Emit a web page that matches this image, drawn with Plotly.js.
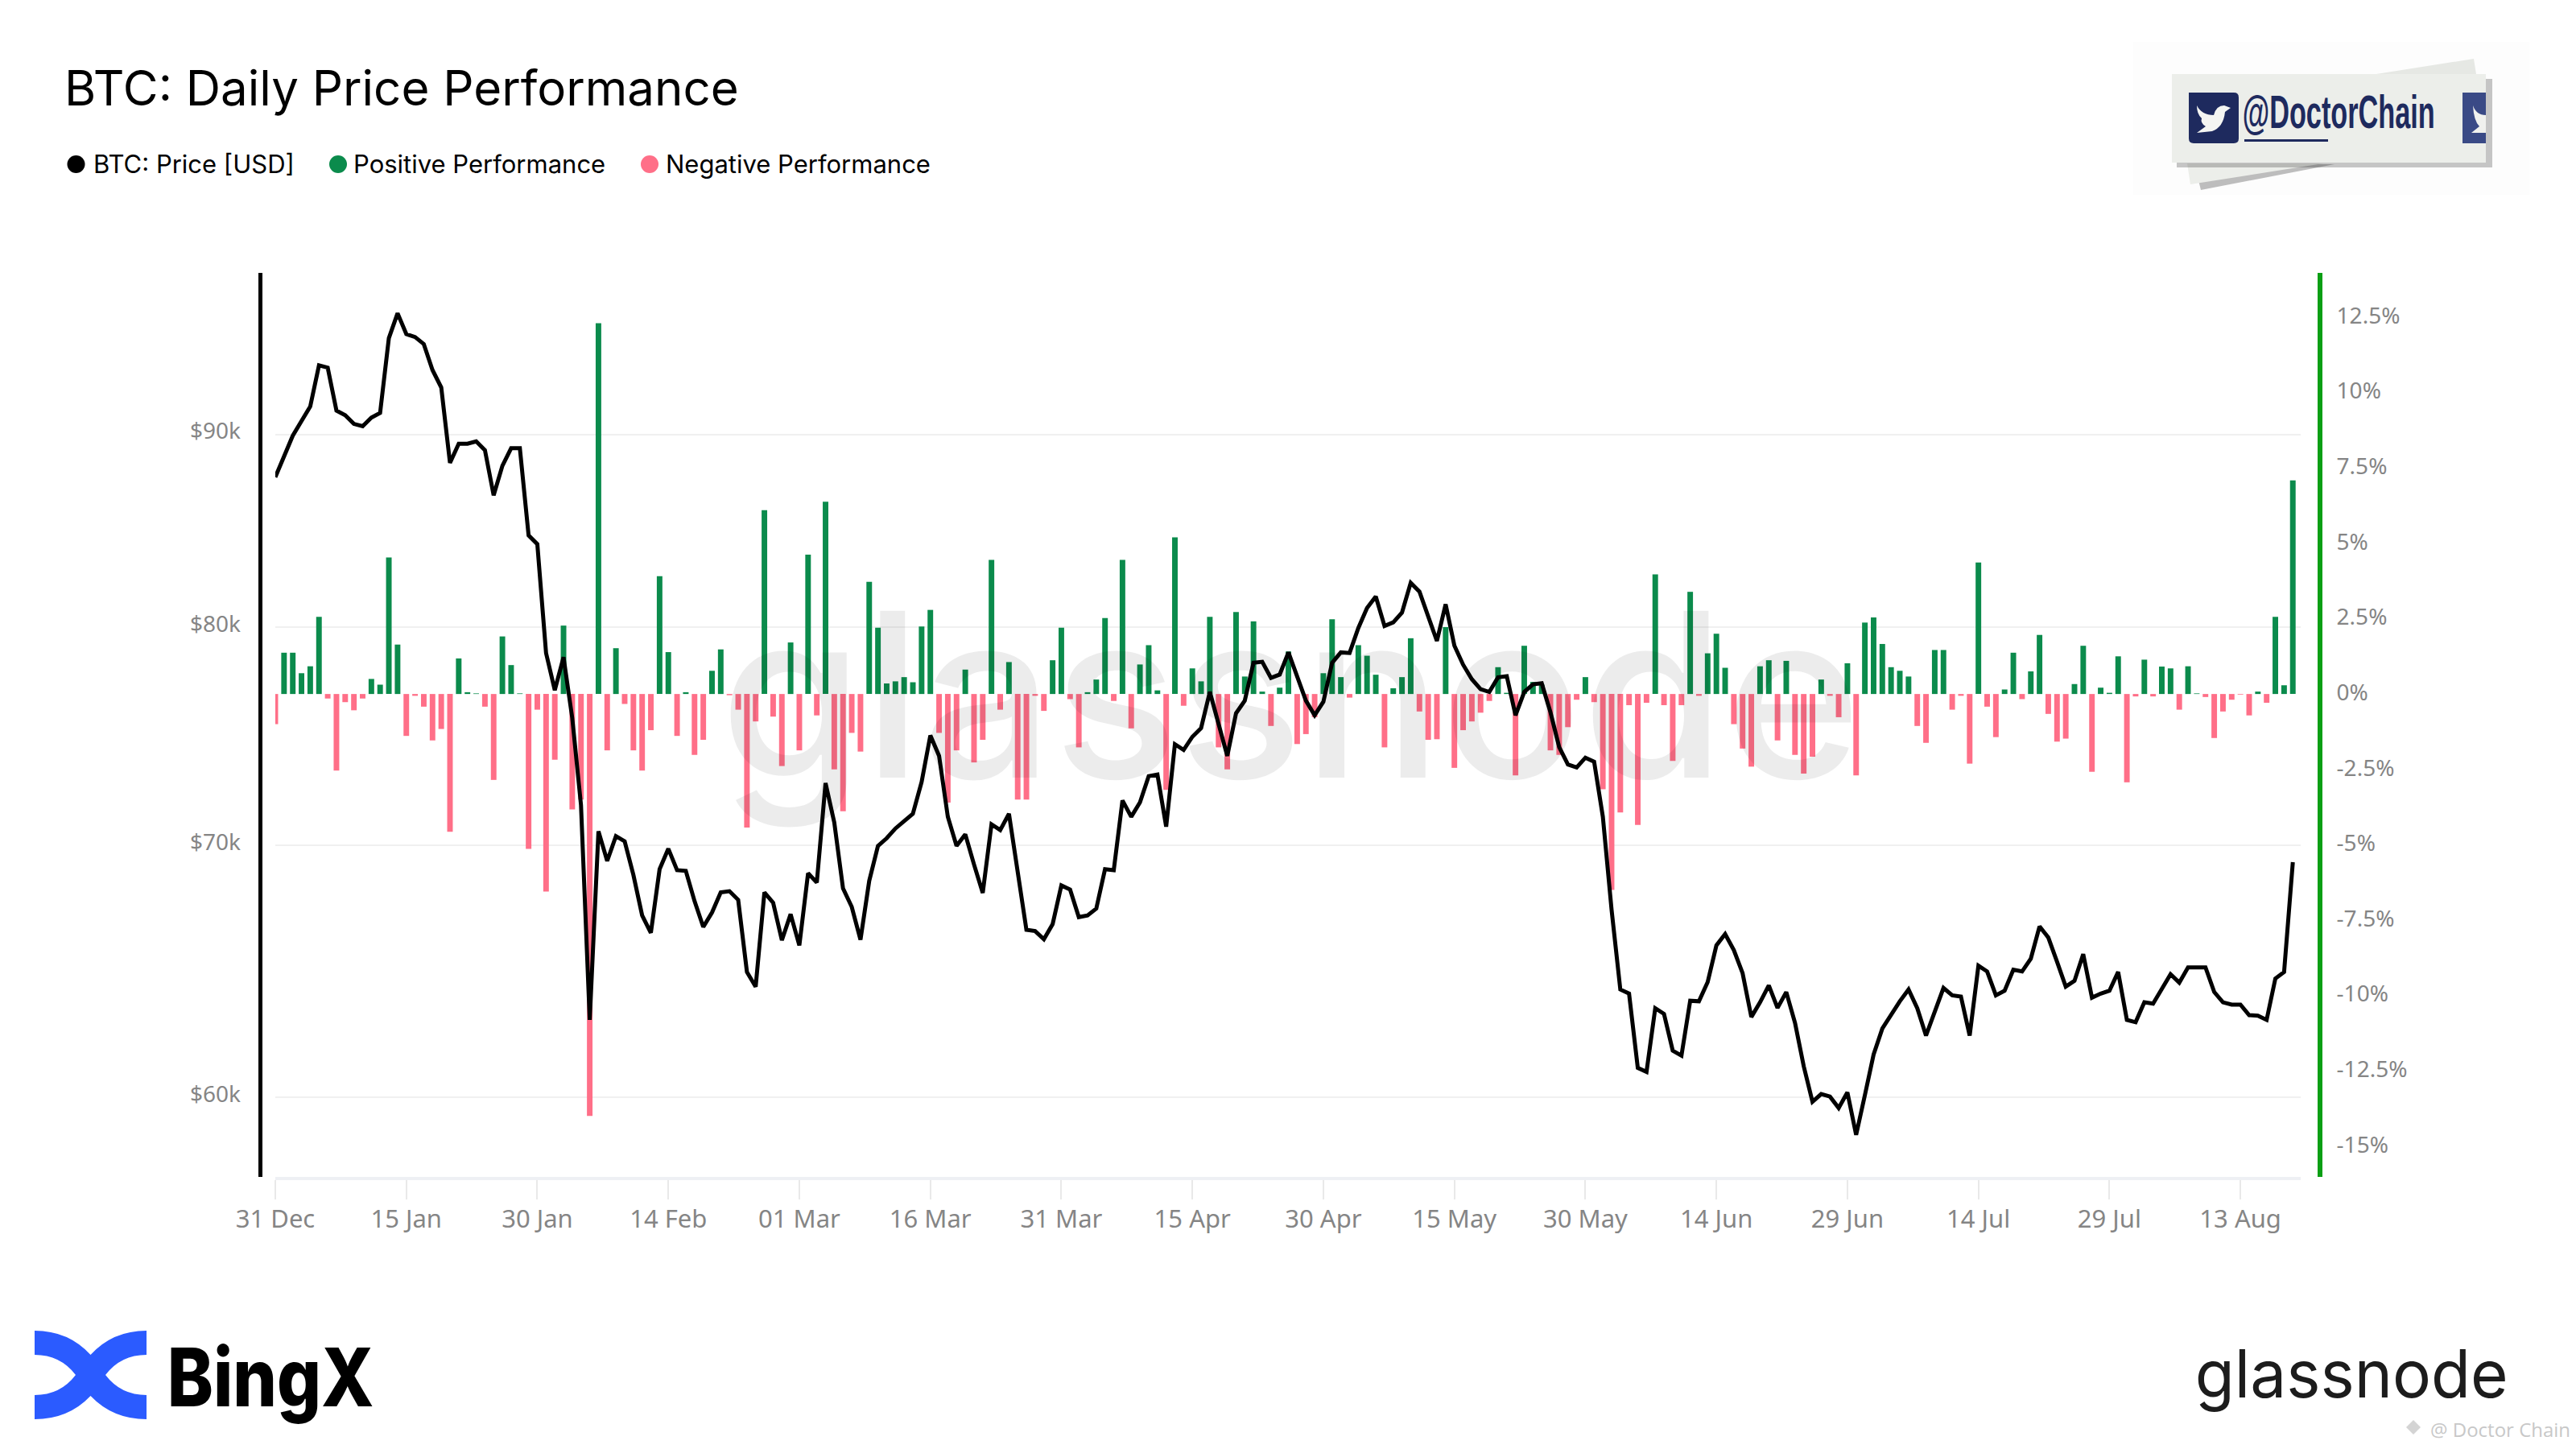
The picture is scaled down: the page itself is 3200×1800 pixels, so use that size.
<!DOCTYPE html>
<html><head><meta charset="utf-8">
<script src="https://cdn.plot.ly/plotly-3.0.1.min.js"></script>
<style>html,body{margin:0;padding:0;background:#fff}</style></head>
<body><div id="chart" style="width:3200px;height:1800px"></div>
<script>
const price = [87680,88770,89930,90740,91550,93880,93750,91320,91060,90580,90450,90930,91190,95450,96920,95690,95520,95110,93610,92620,
88450,89490,89490,89620,89140,86710,88290,89240,89240,84610,84160,78740,76970,78540,75670,71750,62920,70610,69340,70400,
70180,68750,67070,66360,68990,69860,68950,68920,67660,66600,67190,68020,68070,67710,64790,64210,68020,67590,66060,67120,
65850,68820,68430,72720,70990,68190,67420,66080,68500,69980,70310,70730,71060,71370,72770,74870,73940,71240,69980,70480,
69190,68000,70910,70660,71370,68870,66480,66430,66100,66710,68310,68140,67000,67070,67350,68990,68950,71950,71240,71870,
73030,73100,70810,74470,74210,74810,75210,76890,75400,73940,75890,76480,78270,78320,77550,77710,78770,77580,76480,75800,
76430,78270,78770,78740,79950,80940,81510,80050,80230,80710,82190,81750,80510,79320,81120,79100,78180,77490,77020,76890,
77580,77630,75800,76890,77250,77300,75940,74340,73550,73420,73860,73680,71240,67300,64100,63940,61100,60950,63370,63150,
61750,61560,63660,63640,64390,65850,66310,65660,64740,63030,63600,64260,63380,64000,62810,61160,59850,60130,60040,59620,
60190,58650,60090,61600,62590,63150,63640,64100,63370,62320,63260,64160,63870,63820,62320,65040,64810,63870,64050,64880,
64810,65320,66620,66170,65200,64210,64440,65500,63780,63940,64050,64790,62920,62830,63600,63550,64120,64700,64370,64970,
64970,64970,64000,63600,63510,63510,63100,63080,62920,64530,64790,69290];
const performance = [-1.0,1.37,1.37,0.69,0.92,2.56,-0.15,-2.54,-0.27,-0.54,-0.15,0.5,0.31,4.53,1.64,-1.39,-0.06,-0.42,-1.54,-1.16,
-4.57,1.18,0.06,0.02,-0.42,-2.85,1.91,0.96,0.02,-5.14,-0.52,-6.55,-2.18,2.27,-3.83,-3.5,-14.0,12.3,-1.87,1.52,
-0.33,-1.87,-2.54,-1.2,3.91,1.39,-1.39,0.06,-2.02,-1.52,0.77,1.48,-0.04,-0.52,-4.43,-0.91,6.1,-0.75,-2.39,1.71,
-1.87,4.62,-0.71,6.38,-2.5,-3.89,-1.29,-1.91,3.72,2.2,0.35,0.42,0.56,0.39,2.24,2.79,-1.29,-3.6,-1.87,0.81,
-2.27,-1.52,4.45,-0.52,1.06,-3.5,-3.5,-0.06,-0.56,1.12,2.2,-0.17,-1.77,0.06,0.48,2.52,-0.23,4.45,-1.14,0.98,
1.62,0.12,-3.18,5.2,-0.39,0.85,0.42,2.56,-1.77,-2.5,2.72,0.58,2.41,0.08,-1.06,0.21,1.41,-1.66,-1.33,-0.77,
0.69,2.48,0.56,-0.12,1.62,1.27,0.64,-1.77,0.19,0.56,1.85,-0.58,-1.52,-1.5,2.22,-2.45,-1.2,-0.91,-0.62,-0.23,
0.89,0.04,-2.7,1.6,0.4,0.31,-1.87,-2.02,-1.1,-0.19,0.56,-0.27,-3.16,-6.5,-3.93,-0.37,-4.34,-0.29,3.97,-0.37,
-2.22,-0.37,3.39,-0.06,1.35,2.0,0.87,-1.0,-1.81,-2.41,0.92,1.12,-1.54,1.1,-2.02,-2.64,-2.08,0.48,-0.06,-0.77,
1.02,-2.7,2.37,2.54,1.66,0.89,0.77,0.58,-1.06,-1.62,1.46,1.46,-0.52,-0.06,-2.31,4.36,-0.42,-1.43,0.15,1.37,
-0.17,0.75,1.96,-0.66,-1.58,-1.48,0.33,1.6,-2.58,0.21,0.04,1.25,-2.93,-0.08,1.14,-0.08,0.91,0.85,-0.52,0.92,
0.02,-0.1,-1.46,-0.58,-0.19,-0.02,-0.71,0.08,-0.29,2.56,0.29,7.09];
const dayTicks = [0,15,30,45,60,75,90,105,120,135,150,165,180,195,210,225];
const dayLabels = ['31 Dec','15 Jan','30 Jan','14 Feb','01 Mar','16 Mar','31 Mar','15 Apr','30 Apr','15 May','30 May','14 Jun','29 Jun','14 Jul','29 Jul','13 Aug'];
const priceTicks = [60000,70000,80000,90000];
const priceLabels = ['$60k','$70k','$80k','$90k'];
const perfTicks = [-15,-12.5,-10,-7.5,-5,-2.5,0,2.5,5,7.5,10,12.5];
const perfLabels = ['-15%','-12.5%','-10%','-7.5%','-5%','-2.5%','0%','2.5%','5%','7.5%','10%','12.5%'];
const legendNames = ['BTC: Price [USD]','Positive Performance','Negative Performance'];
const colPrice='#000000', colPos='#0B8B4C', colNeg='#FF6F88', colAxisR='#0A9F14';

const days = price.map((_,i)=>i);
const W=3200,H=1800;
const X=p=>p/W, Y=p=>1-p/H;
const path=s=>s.replace(/(-?[\d.]+),(-?[\d.]+)/g,(m,a,b)=>X(+a).toFixed(5)+','+Y(+b).toFixed(5));
const rect=(x0,y0,x1,y1,fill)=>({type:'rect',xref:'paper',yref:'paper',x0:X(x0),x1:X(x1),y0:Y(y0),y1:Y(y1),fillcolor:fill,line:{width:0}});
const poly=(s,fill)=>({type:'path',xref:'paper',yref:'paper',path:path(s),fillcolor:fill,line:{width:0}});
const dot=(cx,cy,r,fill)=>({type:'circle',xref:'paper',yref:'paper',x0:X(cx-r),x1:X(cx+r),y0:Y(cy+r),y1:Y(cy-r),fillcolor:fill,line:{width:0}});
const label=(text,x,y,size,color,family,extra)=>Object.assign({text,x:X(x),y:Y(y),xref:'paper',yref:'paper',xanchor:'left',yanchor:'middle',showarrow:false,
  font:Object.assign({size,color,family},(extra&&extra.weight)?{weight:extra.weight}:{})},(extra&&extra.xanchor)?{xanchor:extra.xanchor}:{});

const sans='Inter, sans-serif', axisFont='"Noto Sans", sans-serif';
const navy='#1E2A5E';
const traces=[
 {type:'bar',name:legendNames[1],x:days,y:performance.map(v=>v>0?v:null),xaxis:'x',yaxis:'y',width:0.64,marker:{color:colPos,line:{width:0}}},
 {type:'bar',name:legendNames[2],x:days,y:performance.map(v=>v<0?v:null),xaxis:'x',yaxis:'y',width:0.64,marker:{color:colNeg,line:{width:0}}},
 {type:'scatter',mode:'lines',name:legendNames[0],x:days,y:price,xaxis:'x',yaxis:'y2',line:{color:colPrice,width:5}}
];
const layout={
 width:W,height:H,margin:{l:0,r:0,t:0,b:0},paper_bgcolor:'#fff',plot_bgcolor:'#fff',showlegend:false,barmode:'overlay',
 title:{text:'BTC: Daily Price Performance',x:X(80),xanchor:'left',xref:'paper',y:Y(110),yanchor:'middle',yref:'container',font:{family:sans,size:60,color:'#000'}},
 xaxis:{domain:[X(342),X(2858)],range:[0,231.9],anchor:'y',tickmode:'array',tickvals:dayTicks,ticktext:dayLabels,showgrid:false,zeroline:false,
   showline:true,linecolor:'#EEF0F4',linewidth:4,ticks:'outside',ticklen:24,tickwidth:2,tickcolor:'#E9E9E9',ticklabelstandoff:-2,tickfont:{family:axisFont,size:31,color:'#858585'}},
 yaxis:{domain:[Y(1462),Y(339)],range:[-16.02,13.97],side:'right',anchor:'free',position:X(2882),tickmode:'array',tickvals:perfTicks,ticktext:perfLabels,
   showgrid:false,zeroline:false,showline:true,linecolor:colAxisR,linewidth:6,ticks:'',ticklabelstandoff:12,ticklabelshift:-2,tickfont:{family:axisFont,size:28,color:'#858585'}},
 yaxis2:{domain:[Y(1462),Y(339)],type:'log',range:[Math.log10(57160),Math.log10(99340)],side:'left',overlaying:'y',anchor:'free',position:X(322.5),tickmode:'array',tickvals:priceTicks,ticktext:priceLabels,
   showgrid:true,gridcolor:'#F0F0F0',gridwidth:2,zeroline:false,showline:true,linecolor:colPrice,linewidth:5,ticks:'',ticklabelstandoff:16,ticklabelshift:-4,tickfont:{family:axisFont,size:28,color:'#858585'}},
 shapes:[
  dot(94.5,204,11,colPrice),dot(420,204,11,colPos),dot(807,204,11,colNeg),
  poly('M 43,1653 Q 85,1653 112.5,1683 Q 140,1653 182,1653 L 182,1683 Q 150,1683 131,1708 Q 150,1733 182,1733 L 182,1763 Q 140,1763 112.5,1734 Q 85,1763 43,1763 L 43,1733 Q 75,1733 94,1708 Q 75,1683 43,1683 Z','#2B5BFF'),
  rect(2650,52,3142,242,'#FDFDFD'),
  poly('M 2726,204 L 2734,236 L 2900,204 Z','rgba(0,0,0,0.25)'),
  poly('M 2717,203 L 2721,229 L 2886,203 Z','#ECEEEA'),
  rect(2704,98,3096,208,'rgba(0,0,0,0.22)'),
  poly('M 2952,92 L 3073,73 L 3076,92 Z','#E6E8E4'),
  rect(2698,92,3088,202,'#ECEEEA'),
  poly('M 2719,115 Q 2719,115 2725,115 L 2775,115 Q 2781,115 2781,121 L 2781,172 Q 2781,178 2775,178 L 2725,178 Q 2719,178 2719,172 Z',navy),
  poly('M 2729,131 Q 2735,143 2750,143 Q 2753,131 2763,131 L 2771,134 L 2764,139 Q 2762,158 2748,163 L 2729,165 L 2740,157 Q 2733,153 2735,147 Q 2729,142 2729,131 Z','#F4F5F2'),
  poly('M 3059,115 L 3088,115 L 3088,178 L 3059,178 Z','#3A4A86'),
  poly('M 3072,131 Q 3076,143 3088,143 L 3088,165 L 3070,165 L 3080,157 Q 3073,150 3072,131 Z','#F0F1EE'),
  rect(2788,173,2892,176,navy),
  poly('M 2998,1764 L 3007,1773 L 2998,1782 L 2989,1773 Z','#D4D4D4')
 ],
 annotations:[
  label(legendNames[0],114,204,31,'#000',sans),
  label(legendNames[1],437,204,31,'#000',sans),
  label(legendNames[2],825,204,31,'#000',sans),
  label('glassnode',1603,862,285,'rgba(0,0,0,0.075)',sans,{xanchor:'center',weight:500}),
  label('BingX',335.5,1710,100,'#000',sans,{xanchor:'center',weight:800}),
  label('glassnode',2920.5,1706,82,'#1C1C1C',sans,{xanchor:'center',weight:400}),
  label('@DoctorChain',2905,138,58,navy,'"Liberation Sans", sans-serif',{xanchor:'center',weight:700}),
  label('@ Doctor Chain',3017,1775,24,'#C8C8C8','"Open Sans", sans-serif')
 ]
};
Plotly.newPlot('chart',traces,layout,{displayModeBar:false,staticPlot:true}).then(()=>{
  const els=[...document.querySelectorAll('.annotation-text')];
  const fit=(txt,size,w)=>els.filter(e=>e.textContent===txt&&Math.round(parseFloat(e.style.fontSize))===size)
    .forEach(e=>{e.setAttribute('textLength',w);e.setAttribute('lengthAdjust','spacingAndGlyphs');});
  fit('BingX',100,257);
  fit('glassnode',285,1418);
  fit('glassnode',82,389);
  fit('@DoctorChain',58,239);
});
</script></body></html>
